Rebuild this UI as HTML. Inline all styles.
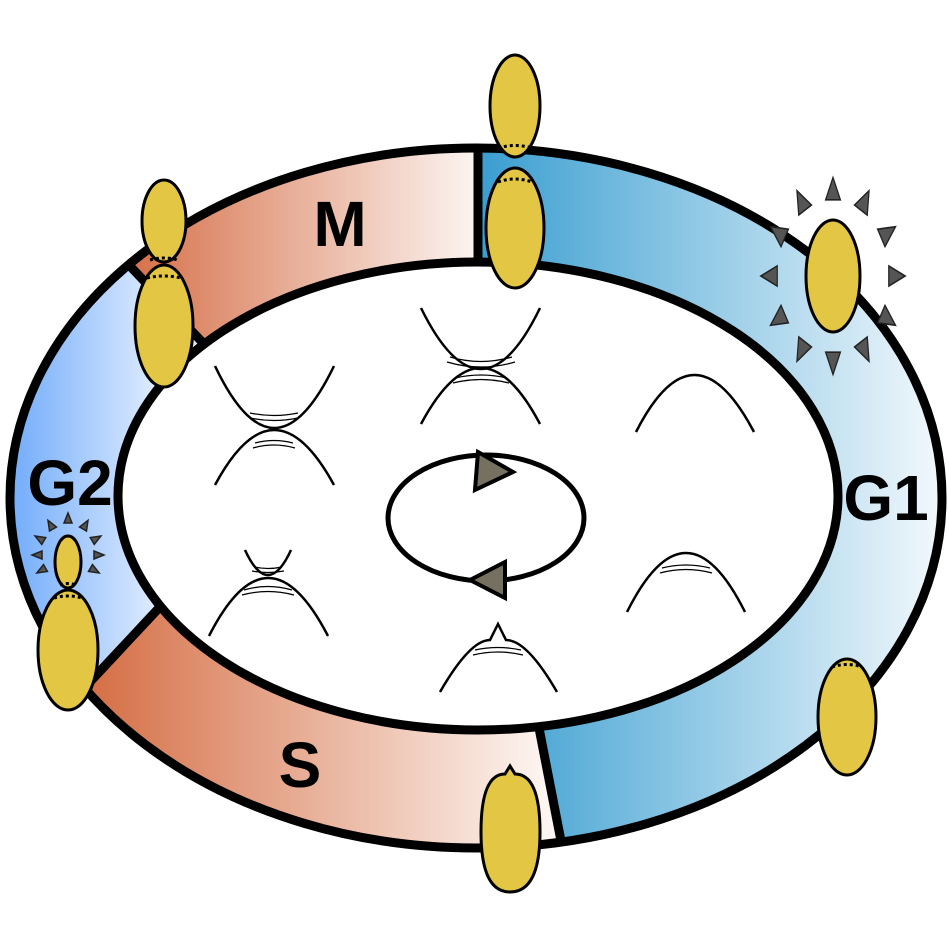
<!DOCTYPE html>
<html><head><meta charset="utf-8"><style>html,body{margin:0;padding:0;background:#fff}svg{display:block}</style></head>
<body>
<svg width="949" height="949" viewBox="0 0 949 949" xmlns="http://www.w3.org/2000/svg">
<defs>
<linearGradient id="gM" gradientUnits="userSpaceOnUse" x1="130" y1="0" x2="478" y2="0"><stop offset="0" stop-color="#d6714a"/><stop offset="1" stop-color="#fcf5f2"/></linearGradient>
<linearGradient id="gG1" gradientUnits="userSpaceOnUse" x1="485" y1="0" x2="945" y2="0"><stop offset="0" stop-color="#3c9fd1"/><stop offset="1" stop-color="#f4f9fd"/></linearGradient>
<linearGradient id="gS" gradientUnits="userSpaceOnUse" x1="80" y1="0" x2="545" y2="0"><stop offset="0" stop-color="#d46c42"/><stop offset="1" stop-color="#fdf5f1"/></linearGradient>
<linearGradient id="gG2" gradientUnits="userSpaceOnUse" x1="8" y1="0" x2="160" y2="0"><stop offset="0" stop-color="#70abfb"/><stop offset="1" stop-color="#e1edff"/></linearGradient>
<clipPath id="cM"><polygon points="60,190 250,395 478,400 478,0 60,0"/></clipPath>
<clipPath id="cG1"><polygon points="478,0 949,0 949,949 575,910 530,685 478,400"/></clipPath>
<clipPath id="cS"><polygon points="575,949 575,910 530,685 200,563 40,730 0,760 0,949"/></clipPath>
<clipPath id="cG2"><polygon points="0,0 60,0 60,190 250,395 200,563 40,730 0,760"/></clipPath>
</defs>
<g fill-rule="evenodd">
<path fill="url(#gM)" clip-path="url(#cM)" d="M10,498 a466,350 0 1,0 932,0 a466,350 0 1,0 -932,0 Z M118,496 a360,234 0 1,0 720,0 a360,234 0 1,0 -720,0 Z"/>
<path fill="url(#gG1)" clip-path="url(#cG1)" d="M10,498 a466,350 0 1,0 932,0 a466,350 0 1,0 -932,0 Z M118,496 a360,234 0 1,0 720,0 a360,234 0 1,0 -720,0 Z"/>
<path fill="url(#gS)" clip-path="url(#cS)" d="M10,498 a466,350 0 1,0 932,0 a466,350 0 1,0 -932,0 Z M118,496 a360,234 0 1,0 720,0 a360,234 0 1,0 -720,0 Z"/>
<path fill="url(#gG2)" clip-path="url(#cG2)" d="M10,498 a466,350 0 1,0 932,0 a466,350 0 1,0 -932,0 Z M118,496 a360,234 0 1,0 720,0 a360,234 0 1,0 -720,0 Z"/>
</g>
<g stroke="#000" stroke-width="9">
<line x1="127" y1="263" x2="204" y2="344"/>
<line x1="478" y1="148" x2="478" y2="262"/>
<line x1="539" y1="728" x2="562" y2="846"/>
<line x1="88" y1="684" x2="158" y2="609"/>
</g>
<ellipse cx="476" cy="498" rx="466" ry="350" fill="none" stroke="#000" stroke-width="9"/>
<ellipse cx="478" cy="496" rx="360" ry="234" fill="none" stroke="#000" stroke-width="9"/>

<g font-family="Liberation Sans, sans-serif" font-weight="bold" font-size="64" fill="#000" text-anchor="middle">
<text x="340" y="246">M</text>
<text x="886" y="520">G1</text>
<text x="70" y="505">G2</text>
<text x="300" y="787">S</text>
</g>

<g fill="none" stroke="#000" stroke-width="2.5">
<path d="M421,308 Q481,430 540,308"/><path d="M421,424 Q481,312 540,424"/>
<path d="M450,357 Q481,366 512,357 M447,362 Q481,372 515,362" stroke-width="1.3"/>
<path d="M455,378 Q481,372 507,378 M453,383 Q481,376 509,383" stroke-width="1.3"/>
<path d="M215,366 Q274,490 334,366"/>
<path d="M215,485 Q274,375 334,485"/>
<path d="M250,413 Q274,418 298,413 M250,418 Q274,423 298,418" stroke-width="1.3"/>
<path d="M255,443 Q274,438 293,443 M253,448 Q274,442 295,448" stroke-width="1.3"/>
<path d="M636,432 Q694,318 754,432"/>
<path d="M245,550 Q268,600 291,550"/>
<path d="M209,636 Q268,520 328,636"/>
<path d="M254,567 Q268,570 282,567 M252,571 Q268,574 284,571" stroke-width="1.3"/>
<path d="M244,590 Q268,583 292,590 M242,595 Q268,588 294,595" stroke-width="1.3"/>
<path d="M627,612 Q686,494 745,612"/>
<path d="M662,568 Q686,562 710,568 M660,573 Q686,566 712,573" stroke-width="1.3"/>
<path d="M440,692 Q470,640 490,640 L498,624 L506,640 Q527,640 557,692"/>
<path d="M475,650 Q498,645 521,650 M473,655 Q498,649 523,655" stroke-width="1.3"/>
</g>
<ellipse cx="486" cy="518" rx="98" ry="63" fill="none" stroke="#000" stroke-width="5"/>
<polygon points="478,452 513,472 475,490" fill="#75705f" stroke="#000" stroke-width="4"/>
<polygon points="505,562 470,580 505,598" fill="#75705f" stroke="#000" stroke-width="4"/>

<g fill="#e3c643" stroke="#000" stroke-width="3">
<ellipse cx="515" cy="106" rx="25" ry="51"/>
<ellipse cx="515" cy="228" rx="29" ry="60"/>
<ellipse cx="164" cy="221" rx="22" ry="41"/>
<ellipse cx="164" cy="326" rx="29" ry="61"/>
<ellipse cx="68" cy="562" rx="13" ry="26"/>
<ellipse cx="68" cy="650" rx="30" ry="60"/>
<ellipse cx="833" cy="276" rx="27" ry="56"/>
<ellipse cx="847" cy="717" rx="29" ry="58"/>
<path d="M481,832 Q481,774 505,774 L510,766 L515,774 Q540,774 540,832 Q540,892 510,892 Q481,892 481,832 Z"/>
</g>
<g fill="none" stroke="#000" stroke-width="3" stroke-dasharray="3,3">
<path d="M498,148 Q515,143 532,148"/><path d="M498,182 Q515,176 532,182"/>
<path d="M150,260 Q164,256 178,260"/><path d="M147,278 Q164,274 181,278"/>
<path d="M60,585 Q68,582 76,585"/><path d="M54,598 Q68,594 82,598"/>
<path d="M832,667 Q847,662 862,667"/>
</g>
<g fill="#555" stroke="#222" stroke-width="1.5">
<g transform="translate(833,276) scale(0.82,1.12)">
<polygon points="-9,0 9,0 0,-20" transform="rotate(0) translate(0,-68)"/>
<polygon points="-9,0 9,0 0,-20" transform="rotate(30) translate(0,-68)"/>
<polygon points="-9,0 9,0 0,-20" transform="rotate(60) translate(0,-68)"/>
<polygon points="-9,0 9,0 0,-20" transform="rotate(90) translate(0,-68)"/>
<polygon points="-9,0 9,0 0,-20" transform="rotate(120) translate(0,-68)"/>
<polygon points="-9,0 9,0 0,-20" transform="rotate(150) translate(0,-68)"/>
<polygon points="-9,0 9,0 0,-20" transform="rotate(180) translate(0,-68)"/>
<polygon points="-9,0 9,0 0,-20" transform="rotate(210) translate(0,-68)"/>
<polygon points="-9,0 9,0 0,-20" transform="rotate(240) translate(0,-68)"/>
<polygon points="-9,0 9,0 0,-20" transform="rotate(270) translate(0,-68)"/>
<polygon points="-9,0 9,0 0,-20" transform="rotate(300) translate(0,-68)"/>
<polygon points="-9,0 9,0 0,-20" transform="rotate(330) translate(0,-68)"/>
</g>
<g transform="translate(68,555)">
<polygon points="-4,0 4,0 0,-10" transform="rotate(-90) translate(0,-26)"/>
<polygon points="-4,0 4,0 0,-10" transform="rotate(-60) translate(0,-28)"/>
<polygon points="-4,0 4,0 0,-10" transform="rotate(-30) translate(0,-30)"/>
<polygon points="-4,0 4,0 0,-10" transform="rotate(0) translate(0,-32)"/>
<polygon points="-4,0 4,0 0,-10" transform="rotate(30) translate(0,-30)"/>
<polygon points="-4,0 4,0 0,-10" transform="rotate(60) translate(0,-28)"/>
<polygon points="-4,0 4,0 0,-10" transform="rotate(90) translate(0,-26)"/>
<polygon points="-4,0 4,0 0,-10" transform="rotate(120) translate(0,-26)"/>
<polygon points="-4,0 4,0 0,-10" transform="rotate(-120) translate(0,-26)"/>
</g>
</g>
</svg>
</body></html>
